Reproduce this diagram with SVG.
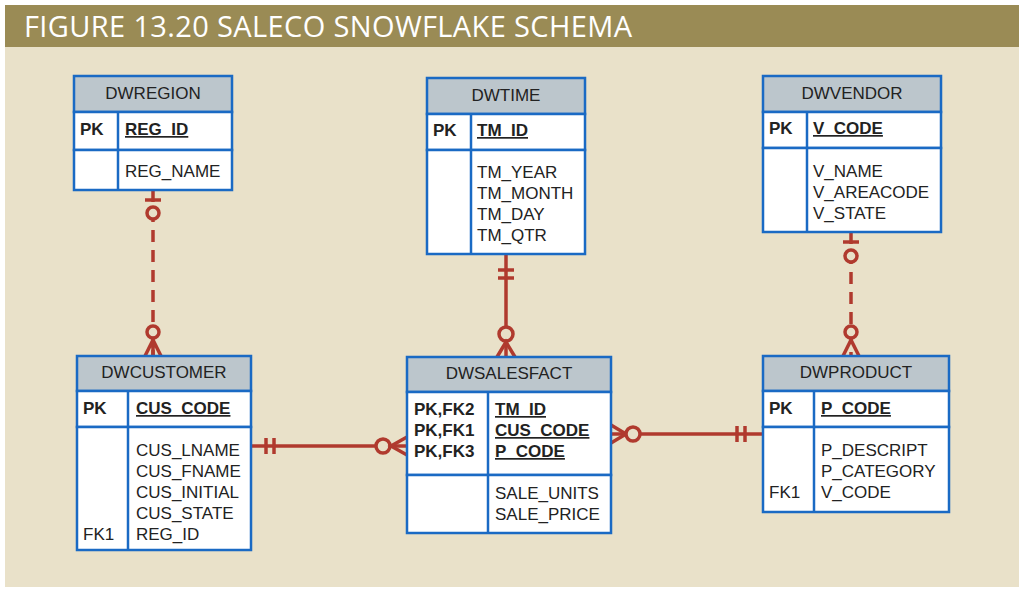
<svg xmlns="http://www.w3.org/2000/svg" width="1024" height="591" viewBox="0 0 1024 591">
<style>
.hd{fill:#bcc6cc;stroke:#1a6ac4;stroke-width:2.5}
.bx{fill:#fff;stroke:#1a6ac4;stroke-width:2.5}
.ln{stroke:#1a6ac4;stroke-width:2.5}
text{font-family:"Liberation Sans",Arial,sans-serif;font-size:17px;fill:#222}
.t{text-anchor:middle}
.b{font-weight:bold}
.u{font-weight:bold;text-decoration:underline}
.c{stroke:#b03a2e;stroke-width:3.5;fill:none}
.d{stroke-dasharray:12,8}
.o{stroke:#b03a2e;stroke-width:3.5;fill:#e8e0c8}
</style>
<rect width="1024" height="591" fill="#fff"/>
<rect x="5" y="47" width="1014" height="540" fill="#e9e1c9"/>
<rect x="5" y="5" width="1014" height="42" fill="#9a8b55"/>
<text x="24" y="37" textLength="608" style="font-family:'Open Sans','Liberation Sans',sans-serif;font-size:29px;fill:#fff">FIGURE 13.20  SALECO SNOWFLAKE SCHEMA</text>
<g id="connectors">
<g id="c1"><line class="c d" x1="153" y1="190" x2="153" y2="356"/><line class="c" x1="145" y1="200" x2="161" y2="200"/><circle class="o" cx="153" cy="213" r="6"/><circle class="o" cx="153" cy="332" r="6"/><path class="c" d="M145 356 L153 340 L161 356 M153 340 V356"/></g>
<g id="c2"><line class="c" x1="506" y1="254" x2="506" y2="357"/><line class="c" x1="498" y1="270" x2="514" y2="270"/><line class="c" x1="498" y1="278" x2="514" y2="278"/><circle class="o" cx="506" cy="334" r="7"/><path class="c" d="M497 357 L506 342 L515 357"/></g>
<g id="c3"><line class="c d" x1="851" y1="232" x2="851" y2="356"/><line class="c" x1="843" y1="242" x2="859" y2="242"/><circle class="o" cx="851" cy="256" r="6"/><circle class="o" cx="851" cy="332" r="6"/><path class="c" d="M843 356 L851 340 L859 356"/></g>
<g id="c4"><line class="c" x1="251" y1="446" x2="407" y2="446"/><line class="c" x1="266" y1="438" x2="266" y2="454"/><line class="c" x1="274" y1="438" x2="274" y2="454"/><circle class="o" cx="383" cy="446" r="7"/><path class="c" d="M407 437 L391 446 L407 455"/></g>
<g id="c5"><line class="c" x1="611" y1="434" x2="763" y2="434"/><path class="c" d="M611 425 L626 434 L611 443"/><circle class="o" cx="633" cy="434" r="7"/><line class="c" x1="737" y1="426" x2="737" y2="442"/><line class="c" x1="745" y1="426" x2="745" y2="442"/></g>
</g>
<g id="DWREGION">
<rect class="hd" x="74" y="76" width="158" height="36"/><rect class="bx" x="74" y="112" width="158" height="38"/><rect class="bx" x="74" y="150" width="158" height="40"/><line class="ln" x1="118" y1="112" x2="118" y2="190"/>
<text class="t" x="153" y="99">DWREGION</text><text class="b" x="80" y="135">PK</text><text class="u" x="125" y="135">REG_ID</text><text x="125" y="177">REG_NAME</text></g>
<g id="DWTIME">
<rect class="hd" x="427" y="78" width="158" height="36"/><rect class="bx" x="427" y="114" width="158" height="36"/><rect class="bx" x="427" y="150" width="158" height="104"/><line class="ln" x1="471" y1="114" x2="471" y2="254"/>
<text class="t" x="506" y="101">DWTIME</text><text class="b" x="433" y="136">PK</text><text class="u" x="477" y="136">TM_ID</text>
<text x="477" y="178">TM_YEAR</text><text x="477" y="199">TM_MONTH</text><text x="477" y="220">TM_DAY</text><text x="477" y="241">TM_QTR</text></g>
<g id="DWVENDOR">
<rect class="hd" x="763" y="76" width="178" height="36"/><rect class="bx" x="763" y="112" width="178" height="36"/><rect class="bx" x="763" y="148" width="178" height="84"/><line class="ln" x1="807" y1="112" x2="807" y2="232"/>
<text class="t" x="852" y="99">DWVENDOR</text><text class="b" x="769" y="134">PK</text><text class="u" x="813" y="134">V_CODE</text>
<text x="813" y="177">V_NAME</text><text x="813" y="198">V_AREACODE</text><text x="813" y="219">V_STATE</text></g>
<g id="DWCUSTOMER">
<rect class="hd" x="77" y="356" width="174" height="35"/><rect class="bx" x="77" y="391" width="174" height="36"/><rect class="bx" x="77" y="427" width="174" height="123"/><line class="ln" x1="128" y1="391" x2="128" y2="550"/>
<text class="t" x="164" y="378">DWCUSTOMER</text><text class="b" x="83" y="414">PK</text><text class="u" x="136" y="414">CUS_CODE</text>
<text x="136" y="456">CUS_LNAME</text><text x="136" y="477">CUS_FNAME</text><text x="136" y="498">CUS_INITIAL</text><text x="136" y="519">CUS_STATE</text><text x="136" y="540">REG_ID</text><text x="83" y="540">FK1</text></g>
<g id="DWSALESFACT">
<rect class="hd" x="407" y="357" width="204" height="35"/><rect class="bx" x="407" y="392" width="204" height="83"/><rect class="bx" x="407" y="475" width="204" height="58"/><line class="ln" x1="488" y1="392" x2="488" y2="533"/>
<text class="t" x="509" y="379">DWSALESFACT</text>
<text class="b" x="414" y="415">PK,FK2</text><text class="b" x="414" y="436">PK,FK1</text><text class="b" x="414" y="457">PK,FK3</text>
<text class="u" x="495" y="415">TM_ID</text><text class="u" x="495" y="436">CUS_CODE</text><text class="u" x="495" y="457">P_CODE</text>
<text x="495" y="499">SALE_UNITS</text><text x="495" y="520">SALE_PRICE</text></g>
<g id="DWPRODUCT">
<rect class="hd" x="763" y="356" width="186" height="35"/><rect class="bx" x="763" y="391" width="186" height="36"/><rect class="bx" x="763" y="427" width="186" height="85"/><line class="ln" x1="814" y1="391" x2="814" y2="512"/>
<text class="t" x="856" y="378">DWPRODUCT</text><text class="b" x="769" y="414">PK</text><text class="u" x="821" y="414">P_CODE</text>
<text x="821" y="456">P_DESCRIPT</text><text x="821" y="477">P_CATEGORY</text><text x="821" y="498">V_CODE</text><text x="769" y="498">FK1</text></g>
</svg>
